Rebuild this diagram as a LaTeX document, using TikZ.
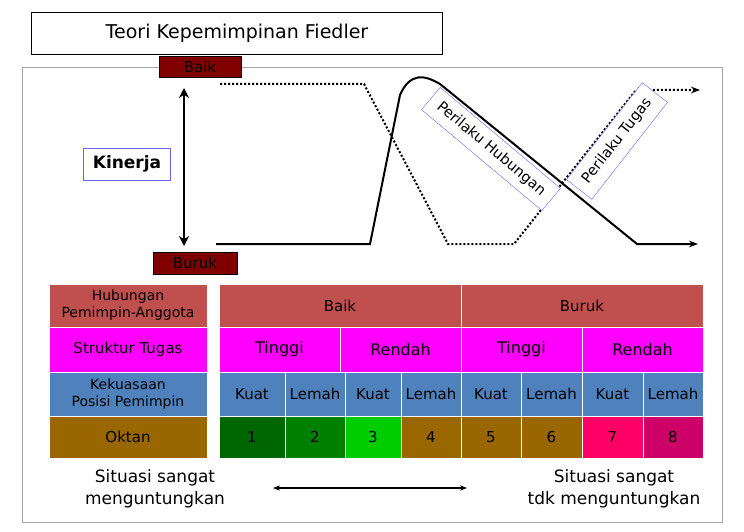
\documentclass[tikz,border=0pt]{standalone}
\usepackage{fontspec}
\setmainfont{DejaVu Sans}
\usepackage{tikz}
\usetikzlibrary{arrows.meta}
\definecolor{rowA}{RGB}{192,80,77}
\definecolor{rowB}{RGB}{255,0,255}
\definecolor{rowC}{RGB}{79,129,189}
\definecolor{rowD}{RGB}{153,102,0}
\definecolor{darkred}{RGB}{128,0,0}
\begin{document}
\begin{tikzpicture}[x=1pt,y=-1pt,
  cell/.style={draw=white,line width=1pt,text=black,font=\fontsize{15}{16}\selectfont,align=center},
  lbl/.style={fill=darkred,draw=black,font=\fontsize{15}{16}\selectfont,inner sep=0pt},
  rbox/.style={draw=blue!60,thin,fill=white,font=\fontsize{14.5}{15}\selectfont,inner sep=0pt}]
\useasboundingbox (0,0) rectangle (744,532);
\draw[gray!70,thin] (22,67) rectangle (722,522);
\node[draw,thin,minimum width=411pt,minimum height=42pt,font=\fontsize{19}{20}\selectfont] (title) at (237,33) {Teori Kepemimpinan Fiedler};
\node[lbl,minimum width=82pt,minimum height=21pt] (baik) at (200,66.5) {Baik};
\node[lbl,minimum width=84pt,minimum height=22pt] (buruk) at (195,263) {Buruk};
\coordinate (ktop) at (184,88);
\coordinate (kbot) at (184,246);
\draw[{Stealth[length=10pt,width=10pt,open]}-{Stealth[length=10pt,width=10pt,open]},line width=2.2pt] (ktop) -- (kbot);
\node[draw=blue!60,fill=white,minimum width=87pt,minimum height=32pt,font=\bfseries\fontsize{17}{18}\selectfont] (kinerja) at (127,164) {Kinerja};
% curves
\draw[dotted,line width=2pt,-{Stealth[length=9pt]}] (220,84) -- (364,84) -- (448,244) -- (514,244) -- (636,90) -- (700,90);
\draw[line width=2pt,-{Stealth[length=9pt]}] (216,244) -- (370,244) -- (400,95) .. controls (410,72) and (425,75) .. (440,84) -- (637,244) -- (698,244);
\node[rbox,rotate=-40,minimum width=157pt,minimum height=29pt] (ph) at (491,149) {Perilaku Hubungan};
\node[rbox,rotate=52,minimum width=123pt,minimum height=32pt] (pt) at (617,141) {Perilaku Tugas};
% labels column
\node[cell,fill=rowA,minimum width=158pt,minimum height=43pt,font=\fontsize{14}{17}\selectfont] (l1) at (128,305.5) {Hubungan\\Pemimpin-Anggota};
\node[cell,fill=rowB,minimum width=158pt,minimum height=45pt] (l2) at (128,349.5) {Struktur Tugas};
\node[cell,fill=rowC,minimum width=158pt,minimum height=44pt,font=\fontsize{14}{17}\selectfont] (l3) at (128,394) {Kekuasaan\\Posisi Pemimpin};
\node[cell,fill=rowD,minimum width=158pt,minimum height=42pt] (l4) at (128,437) {Oktan};
% row 1
\node[cell,fill=rowA,minimum width=242pt,minimum height=43pt] (r1a) at (340,305.5) {Baik};
\node[cell,fill=rowA,minimum width=242pt,minimum height=43pt] (r1b) at (582,305.5) {Buruk};
% row 2
\foreach \x/\t [count=\i] in {279.5/Tinggi,400.5/Rendah,521.5/Tinggi,642.5/Rendah}
  \node[cell,fill=rowB,minimum width=121pt,minimum height=45pt,font=\fontsize{16}{17}\selectfont] (r2\i) at (\x,349.5) {\t};
% row 3 and 4
\foreach \a/\b/\t/\c [count=\i] in {219/285/Kuat/green!40!black,285/345/Lemah/green!50!black,345/401/Kuat/green!80!black,401/461/Lemah/rowD,461/521/Kuat/rowD,521/582/Lemah/rowD,582/643/Kuat/{rgb,255:red,255;green,0;blue,102},643/703/Lemah/{rgb,255:red,204;green,0;blue,102}}{
  \node[cell,fill=rowC,minimum width=\b pt-\a pt,minimum height=44pt] (r3\i) at ({(\a+\b)/2},394) {\t};
  \node[cell,fill=\c,minimum width=\b pt-\a pt,minimum height=42pt] (r4\i) at ({(\a+\b)/2},437) {\i};
}
% bottom
\node[font=\fontsize{17}{22}\selectfont,align=center] (sl) at (155,489) {Situasi sangat\\menguntungkan};
\node[font=\fontsize{17}{22}\selectfont,align=center] (sr) at (614,489) {Situasi sangat\\tdk menguntungkan};
\coordinate (al) at (273,488);
\coordinate (ar) at (467,488);
\draw[{Stealth[length=7pt]}-{Stealth[length=7pt]},line width=1.4pt] (al) -- (ar);
\end{tikzpicture}
\end{document}
